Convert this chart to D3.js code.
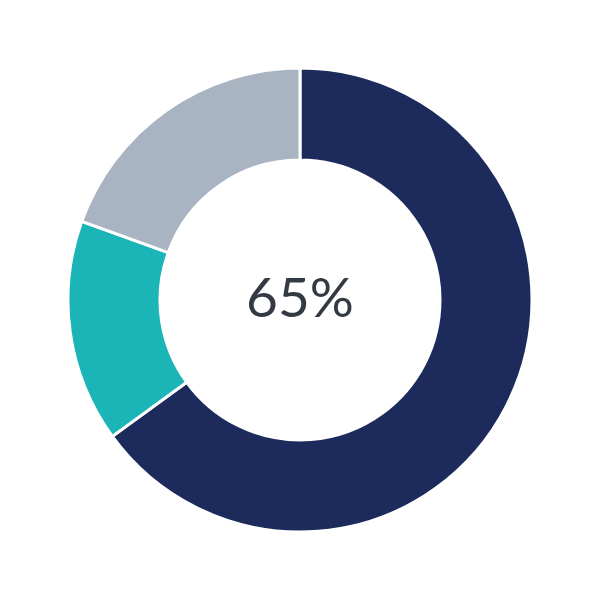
<!DOCTYPE html>
<html>
<head>
<meta charset="utf-8">
<script src="https://cdn.jsdelivr.net/npm/d3@7"></script>
<style>
  body { margin: 0; background: #fff; }
</style>
</head>
<body>
<div class="box"></div>
<script>
// donnees du graphique
const categories = ['A', 'B', 'C']
const values = [65, 15.5, 19.5]
const colors = ['#1c2b5b', '#1bb4b7', '#a9b4c3']
const centerLabel = '65%'

const width = 600
const height = 600
const outerRadius = 232
const innerRadius = 140

const svg = d3.select('.box')
  .append('svg')
  .attr('width', width)
  .attr('height', height)

const graph = svg.append('g')
  .attr('transform', `translate(${width / 2}, ${height / 2})`)

const donnee = categories.map((c, i) => ({ cat: c, val: values[i] }))

const pie = d3.pie()
  .sort(null)
  .value(d => d.val)

const arc = d3.arc()
  .innerRadius(innerRadius)
  .outerRadius(outerRadius)

const color = d3.scaleOrdinal()
  .domain(categories)
  .range(colors)

graph.selectAll('path')
  .data(pie(donnee))
  .enter()
  .append('path')
  .attr('d', arc)
  .attr('fill', d => color(d.data.cat))
  .attr('stroke', '#fff')
  .attr('stroke-width', 3)

graph.append('text')
  .attr('text-anchor', 'middle')
  .attr('dy', '0.35em')
  .attr('y', -2)
  .style('font-family', 'Lato, sans-serif')
  .style('font-size', '55px')
  .style('fill', '#343a44')
  .text(centerLabel)
</script>
</body>
</html>
